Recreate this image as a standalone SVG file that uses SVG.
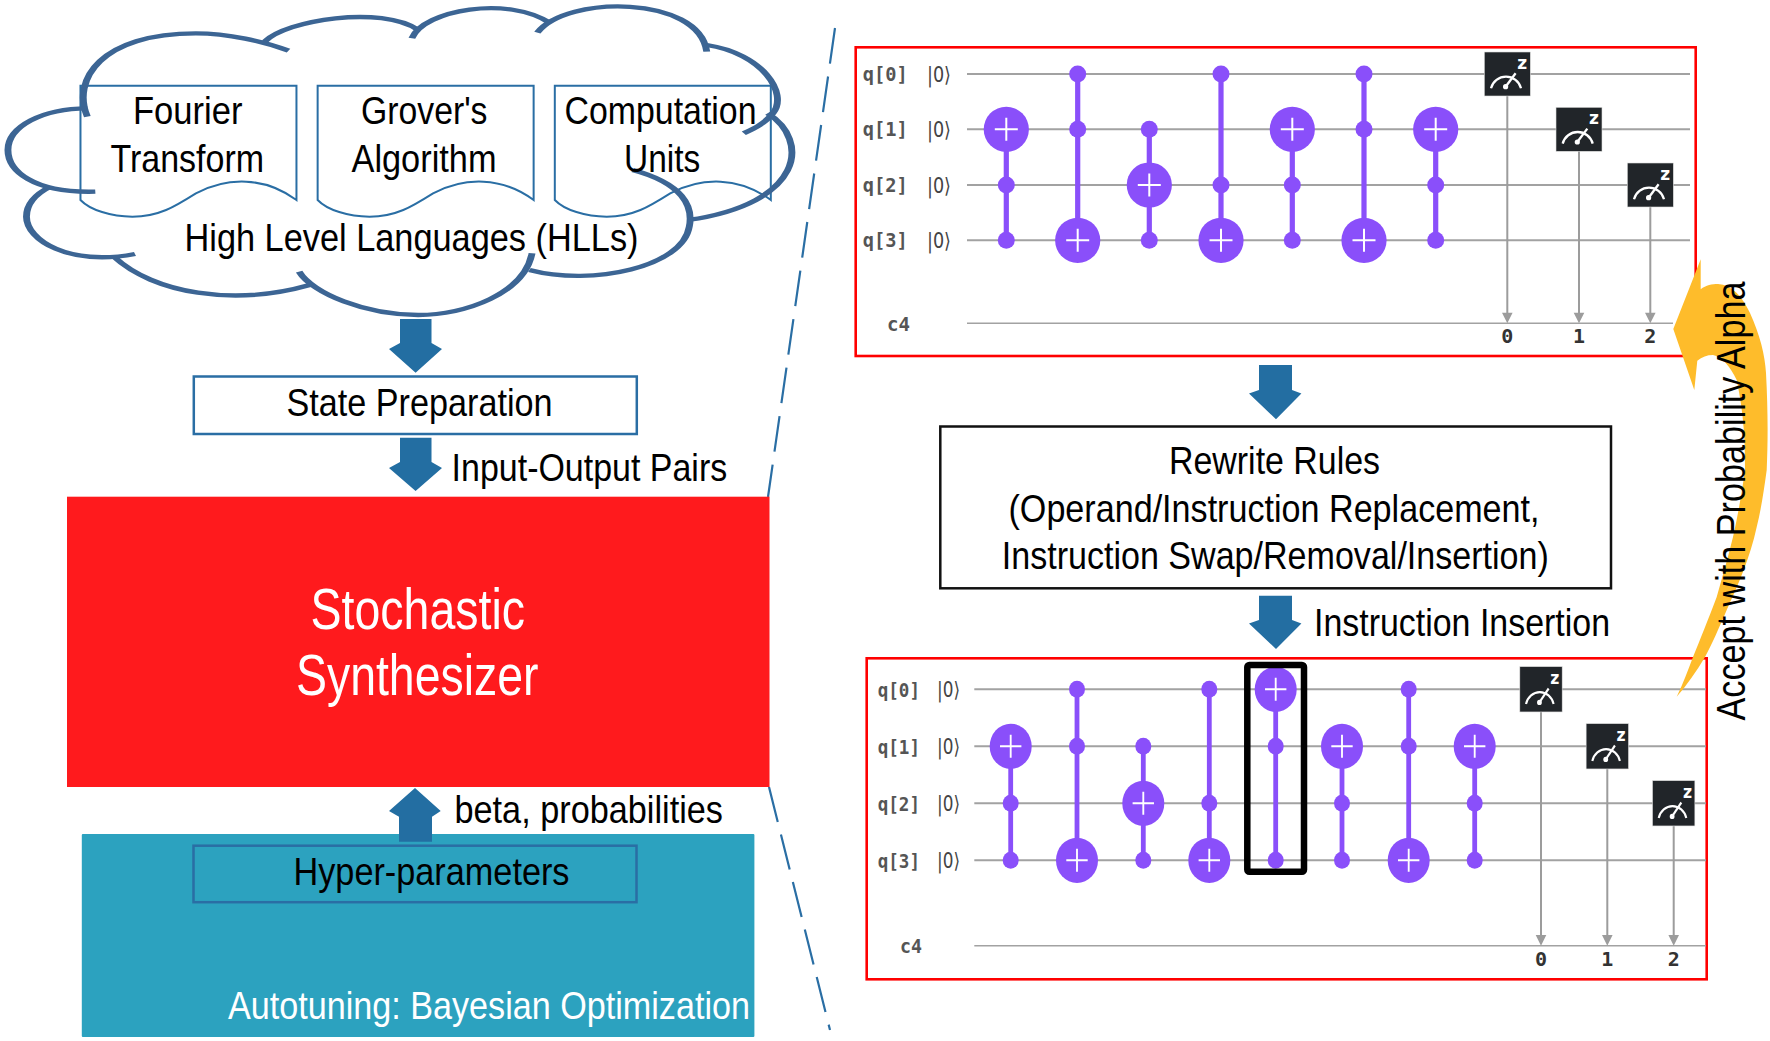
<svg xmlns="http://www.w3.org/2000/svg" width="1770" height="1041" viewBox="0 0 1770 1041">
<style>
text{font-family:"Liberation Sans",Arial,sans-serif;font-size:39.5px;fill:#000}
.blue{fill:#236ea2}
.doc{fill:none;stroke:#2a6ea4;stroke-width:2;vector-effect:non-scaling-stroke}
.cloud{fill:none;stroke:#3c6594;stroke-width:13}
.dash{fill:none;stroke:#2a6ea4;stroke-width:2.2;stroke-dasharray:36 13}
.frame{fill:none;stroke:#f00;stroke-width:2.6}
.wire{stroke:#a2a2a2;stroke-width:1.9;fill:none}
.meas{stroke:#9c9c9c;stroke-width:2;fill:none}
.tri{fill:#9c9c9c}
.bar{stroke:#8a4ffa;fill:none}
.ctl{fill:#8a4ffa}
.q{font-family:"DejaVu Sans Mono",monospace;font-size:19.5px;font-weight:bold;fill:#555}
.ket{font-family:"DejaVu Sans",sans-serif;font-size:21px;fill:#444}
.c{font-family:"DejaVu Sans Mono",monospace;font-size:20px;font-weight:bold;fill:#555}
.n{font-family:"DejaVu Sans Mono",monospace;font-size:20px;font-weight:bold;fill:#333;text-anchor:middle}
.z{font-family:"DejaVu Sans",sans-serif;font-size:17px;font-weight:bold;fill:#fff;text-anchor:middle}
</style>
<defs>
<g id="target"><circle r="22.6" fill="#8a4ffa"/><path d="M-11.5 0H11.5M0-11.5V11.5" stroke="#fff" stroke-width="2" fill="none"/></g>
<g id="meter"><rect x="-23" y="-22" width="46" height="44" fill="#212529" stroke="#ddd" stroke-width=".6"/><path d="M-16.3 14.3A15.5 15.5 0 0 1 13.7 14.3" fill="none" stroke="#fff" stroke-width="2.3"/><path d="M-1.7 12.7L8.3-.7" stroke="#fff" stroke-width="2.3"/><circle cx="-1.7" cy="12.7" r="2.6" fill="#fff"/><text class="z" x="15" y="-5.5">z</text></g>
</defs>

<g id="dashes">
<path class="dash" d="M835 28L768 497"/>
<path class="dash" d="M769 787L830 1030"/>
</g>

<g id="cloud">
<g transform="scale(.5294 .3333)">
<path class="doc" d="M152 257H560V600C500 530 430 530 370 580C330 620 300 650 250 650C210 650 170 630 152 600Z"/>
<path class="doc" d="M600 257H1008V600C948 530 878 530 818 580C778 620 748 650 698 650C658 650 618 630 600 600Z"/>
<path class="doc" d="M1048 257H1456V600C1396 530 1326 530 1266 580C1226 620 1196 650 1146 650C1106 650 1066 630 1048 600Z"/>
<path class="cloud" d="M165 350C135 240 190 100 370 100C430 100 500 125 545 152"/>
<path class="cloud" d="M500 125C540 60 720 15 790 90"/>
<path class="cloud" d="M778 115C800 30 960-15 1040 70"/>
<path class="cloud" d="M1015 98C1070-15 1320-15 1335 155"/>
<path class="cloud" d="M1335 135C1440 160 1490 280 1460 340C1445 370 1425 385 1405 400"/>
<path class="cloud" d="M1450 340C1530 420 1520 610 1300 660"/>
<path class="cloud" d="M1195 510C1290 550 1310 620 1302 680C1290 800 1120 860 1000 810"/>
<path class="cloud" d="M1005 760C990 880 880 945 790 945C690 945 590 880 565 815"/>
<path class="cloud" d="M585 855C440 920 290 880 215 770"/>
<path class="cloud" d="M255 762C130 800 50 720 50 650C50 610 70 580 95 560"/>
<path class="cloud" d="M180 575C60 580 15 510 15 450C15 380 80 325 165 325"/>
</g>
<text x="133" y="123.8" textLength="109.5" lengthAdjust="spacingAndGlyphs">Fourier</text>
<text x="110.5" y="171.5" textLength="153.5" lengthAdjust="spacingAndGlyphs">Transform</text>
<text x="361" y="123.8" textLength="126.5" lengthAdjust="spacingAndGlyphs">Grover's</text>
<text x="351.5" y="171.5" textLength="145" lengthAdjust="spacingAndGlyphs">Algorithm</text>
<text x="564.5" y="123.8" textLength="192" lengthAdjust="spacingAndGlyphs">Computation</text>
<text x="624" y="171.5" textLength="76.3" lengthAdjust="spacingAndGlyphs">Units</text>
<text x="184.5" y="251.2" textLength="454" lengthAdjust="spacingAndGlyphs">High Level Languages (HLLs)</text>
</g>

<g id="arrows">
<path class="blue" d="M400 319H431.5V343L442 349L415.6 372.7L389 349L400 343Z"/>
<path class="blue" d="M400 437.7H431.5V462L442 468L415.6 491L389 468L400 462Z"/>
<path class="blue" d="M399 841.7V816.7L389 811L415 788L440.7 811L432 816.7V841.7Z"/>
<path class="blue" d="M1259 365H1292V390L1301.4 393.5L1276 419.3L1249 393.5L1259 390Z"/>
<path class="blue" d="M1259 595.7H1292V620L1301.4 623.5L1276 649L1249 623.5L1259 620Z"/>
</g>

<g id="state-preparation">
<rect x="193.8" y="376.5" width="443" height="57.5" fill="#fff" stroke="#2a6ea4" stroke-width="2.5"/>
<text x="286.5" y="415.8" textLength="266" lengthAdjust="spacingAndGlyphs">State Preparation</text>
</g>
<text id="io-label" x="451.6" y="480.5" textLength="275.6" lengthAdjust="spacingAndGlyphs">Input-Output Pairs</text>

<g id="stochastic-synthesizer">
<rect x="67" y="496.7" width="702.5" height="290.3" fill="#ff1a1d"/>
<text x="310.5" y="628.5" style="font-size:57px;fill:#fff" textLength="214.5" lengthAdjust="spacingAndGlyphs">Stochastic</text>
<text x="296" y="695" style="font-size:57px;fill:#fff" textLength="242.5" lengthAdjust="spacingAndGlyphs">Synthesizer</text>
</g>
<text id="beta-label" x="454.5" y="823" textLength="268.5" lengthAdjust="spacingAndGlyphs">beta, probabilities</text>

<g id="autotuning">
<rect x="81.8" y="834" width="672.6" height="203" rx="1" fill="#2ca2bf"/>
<text x="228" y="1018.5" style="fill:#fff" textLength="522" lengthAdjust="spacingAndGlyphs">Autotuning: Bayesian Optimization</text>
</g>
<path class="blue" d="M399 834H432V841.7H399Z"/>
<g id="hyper-parameters">
<rect x="193.5" y="845.7" width="443" height="56.5" fill="none" stroke="#2a6ea4" stroke-width="2.5"/>
<text x="293.5" y="884.5" textLength="276" lengthAdjust="spacingAndGlyphs">Hyper-parameters</text>
</g>

<g id="circuit-top">
<rect class="frame" x="855.7" y="47.3" width="840" height="308.7"/>
<path class="wire" d="M967 74H1690M967 129.3H1690M967 185H1690M967 240.3H1690"/>
<path class="wire" style="stroke-width:1.5" d="M967 323.3H1673"/>
<text class="q" x="862.7" y="80.5" textLength="45" lengthAdjust="spacingAndGlyphs">q[0]</text>
<text class="q" x="862.7" y="136" textLength="45" lengthAdjust="spacingAndGlyphs">q[1]</text>
<text class="q" x="862.7" y="191.5" textLength="45" lengthAdjust="spacingAndGlyphs">q[2]</text>
<text class="q" x="862.7" y="247" textLength="45" lengthAdjust="spacingAndGlyphs">q[3]</text>
<text class="ket" x="927" y="81.5" textLength="24" lengthAdjust="spacingAndGlyphs">|0⟩</text>
<text class="ket" x="927" y="137" textLength="24" lengthAdjust="spacingAndGlyphs">|0⟩</text>
<text class="ket" x="927" y="192.5" textLength="24" lengthAdjust="spacingAndGlyphs">|0⟩</text>
<text class="ket" x="927" y="248" textLength="24" lengthAdjust="spacingAndGlyphs">|0⟩</text>
<text class="c" x="887" y="330.5" textLength="23" lengthAdjust="spacingAndGlyphs">c4</text>
<g class="bar" stroke-width="5.2">
<path d="M1006.3 129.3V240.3M1077.7 74V240.3M1149.3 129.3V240.3M1221 74V240.3M1292.3 129.3V240.3M1364 74V240.3M1435.7 129.3V240.3"/>
</g>
<g class="ctl">
<circle cx="1006.3" cy="185" r="8.5"/><circle cx="1006.3" cy="240.3" r="8.5"/>
<circle cx="1077.7" cy="74" r="8.5"/><circle cx="1077.7" cy="129.3" r="8.5"/>
<circle cx="1149.3" cy="129.3" r="8.5"/><circle cx="1149.3" cy="240.3" r="8.5"/>
<circle cx="1221" cy="74" r="8.5"/><circle cx="1221" cy="185" r="8.5"/>
<circle cx="1292.3" cy="185" r="8.5"/><circle cx="1292.3" cy="240.3" r="8.5"/>
<circle cx="1364" cy="74" r="8.5"/><circle cx="1364" cy="129.3" r="8.5"/>
<circle cx="1435.7" cy="185" r="8.5"/><circle cx="1435.7" cy="240.3" r="8.5"/>
</g>
<use href="#target" x="1006.3" y="129.3"/>
<use href="#target" x="1077.7" y="240.3"/>
<use href="#target" x="1149.3" y="185"/>
<use href="#target" x="1221" y="240.3"/>
<use href="#target" x="1292.3" y="129.3"/>
<use href="#target" x="1364" y="240.3"/>
<use href="#target" x="1435.7" y="129.3"/>
<path class="meas" d="M1507.3 74V314M1579 129.3V314M1650.3 185V314"/>
<path class="tri" d="M1502 312.7H1512.6L1507.3 323.3ZM1573.7 312.7H1584.3L1579 323.3ZM1645 312.7H1655.6L1650.3 323.3Z"/>
<use href="#meter" x="1507.3" y="74"/>
<use href="#meter" x="1579" y="129.3"/>
<use href="#meter" x="1650.3" y="185"/>
<text class="n" x="1507.3" y="342.5">0</text><text class="n" x="1579" y="342.5">1</text><text class="n" x="1650.3" y="342.5">2</text>
</g>

<g id="rewrite-rules">
<rect x="940.3" y="426.5" width="670.7" height="161.8" fill="#fff" stroke="#111" stroke-width="2.5"/>
<text x="1169" y="474" textLength="211" lengthAdjust="spacingAndGlyphs">Rewrite Rules</text>
<text x="1008.5" y="522" textLength="531" lengthAdjust="spacingAndGlyphs">(Operand/Instruction Replacement,</text>
<text x="1001.8" y="569.3" textLength="547" lengthAdjust="spacingAndGlyphs">Instruction Swap/Removal/Insertion)</text>
</g>
<text id="insertion-label" x="1314" y="635.5" textLength="296" lengthAdjust="spacingAndGlyphs">Instruction Insertion</text>

<g id="circuit-bottom">
<rect class="frame" x="866.7" y="658.3" width="840" height="321"/>
<path class="wire" d="M974.3 689.3H1706M974.3 746.3H1706M974.3 803.3H1706M974.3 860.3H1706"/>
<path class="wire" style="stroke-width:1.5" d="M974.3 945.7H1706"/>
<text class="q" x="877.7" y="696.5" textLength="42.3" lengthAdjust="spacingAndGlyphs">q[0]</text>
<text class="q" x="877.7" y="753.5" textLength="42.3" lengthAdjust="spacingAndGlyphs">q[1]</text>
<text class="q" x="877.7" y="810.5" textLength="42.3" lengthAdjust="spacingAndGlyphs">q[2]</text>
<text class="q" x="877.7" y="867.5" textLength="42.3" lengthAdjust="spacingAndGlyphs">q[3]</text>
<text class="ket" x="937" y="696.5" textLength="23" lengthAdjust="spacingAndGlyphs">|0⟩</text>
<text class="ket" x="937" y="753.5" textLength="23" lengthAdjust="spacingAndGlyphs">|0⟩</text>
<text class="ket" x="937" y="810.5" textLength="23" lengthAdjust="spacingAndGlyphs">|0⟩</text>
<text class="ket" x="937" y="867.5" textLength="23" lengthAdjust="spacingAndGlyphs">|0⟩</text>
<text class="c" x="900" y="952.5" textLength="22" lengthAdjust="spacingAndGlyphs">c4</text>
<g class="bar" stroke-width="4.8">
<path d="M1010.7 746.3V860.3M1077 689.3V860.3M1143.3 746.3V860.3M1209.3 689.3V860.3M1275.7 689.3V860.3M1342 746.3V860.3M1408.7 689.3V860.3M1474.7 746.3V860.3"/>
</g>
<g class="ctl">
<ellipse cx="1010.7" cy="803.3" rx="8" ry="8.5"/><ellipse cx="1010.7" cy="860.3" rx="8" ry="8.5"/>
<ellipse cx="1077" cy="689.3" rx="8" ry="8.5"/><ellipse cx="1077" cy="746.3" rx="8" ry="8.5"/>
<ellipse cx="1143.3" cy="746.3" rx="8" ry="8.5"/><ellipse cx="1143.3" cy="860.3" rx="8" ry="8.5"/>
<ellipse cx="1209.3" cy="689.3" rx="8" ry="8.5"/><ellipse cx="1209.3" cy="803.3" rx="8" ry="8.5"/>
<ellipse cx="1275.7" cy="746.3" rx="8" ry="8.5"/><ellipse cx="1275.7" cy="860.3" rx="8" ry="8.5"/>
<ellipse cx="1342" cy="803.3" rx="8" ry="8.5"/><ellipse cx="1342" cy="860.3" rx="8" ry="8.5"/>
<ellipse cx="1408.7" cy="689.3" rx="8" ry="8.5"/><ellipse cx="1408.7" cy="746.3" rx="8" ry="8.5"/>
<ellipse cx="1474.7" cy="803.3" rx="8" ry="8.5"/><ellipse cx="1474.7" cy="860.3" rx="8" ry="8.5"/>
</g>
<use href="#target" transform="translate(1010.7 746.3) scale(.93 1)"/>
<use href="#target" transform="translate(1077 860.3) scale(.93 1)"/>
<use href="#target" transform="translate(1143.3 803.3) scale(.93 1)"/>
<use href="#target" transform="translate(1209.3 860.3) scale(.93 1)"/>
<use href="#target" transform="translate(1275.7 689.3) scale(.93 1)"/>
<use href="#target" transform="translate(1342 746.3) scale(.93 1)"/>
<use href="#target" transform="translate(1408.7 860.3) scale(.93 1)"/>
<use href="#target" transform="translate(1474.7 746.3) scale(.93 1)"/>
<rect x="1247.3" y="665" width="56.7" height="206.7" rx="2" fill="none" stroke="#000" stroke-width="6.5"/>
<path class="meas" d="M1541 689.3V936M1607.3 746.3V936M1673.7 803.3V936"/>
<path class="tri" d="M1535.7 935H1546.3L1541 945.7ZM1602 935H1612.6L1607.3 945.7ZM1668.4 935H1679L1673.7 945.7Z"/>
<use href="#meter" transform="translate(1541 689.3) scale(.92 1.03)"/>
<use href="#meter" transform="translate(1607.3 746.3) scale(.92 1.03)"/>
<use href="#meter" transform="translate(1673.7 803.3) scale(.92 1.03)"/>
<text class="n" x="1541" y="965.5">0</text><text class="n" x="1607.3" y="965.5">1</text><text class="n" x="1673.7" y="965.5">2</text>
</g>

<g id="accept-arrow">
<path fill="#febc2b" d="M1700.7 259.3L1700.7 289.3C1706 285 1712 284 1718 284C1732 285 1742 296 1750 313C1760 335 1765 355 1766 373C1768 410 1768 440 1766.7 470C1764 490 1761 510 1756.7 527C1750 558 1738 585 1726.7 610C1719 628 1712 644 1705 657C1696 672 1687 685 1676.7 696.7C1683 684 1688 670 1693 657C1700 640 1708 620 1716.7 597C1722 578 1728 558 1733 537C1738 515 1742 492 1745 470C1745 440 1744 415 1736.7 380C1730 366 1722 357 1713 355C1707 355 1702 357 1697.3 360.7L1694.3 390L1673.3 329Z"/>
<text transform="translate(1745 720.5) rotate(-90)" style="font-size:40px" textLength="439" lengthAdjust="spacingAndGlyphs">Accept with Probability Alpha</text>
</g>
</svg>
